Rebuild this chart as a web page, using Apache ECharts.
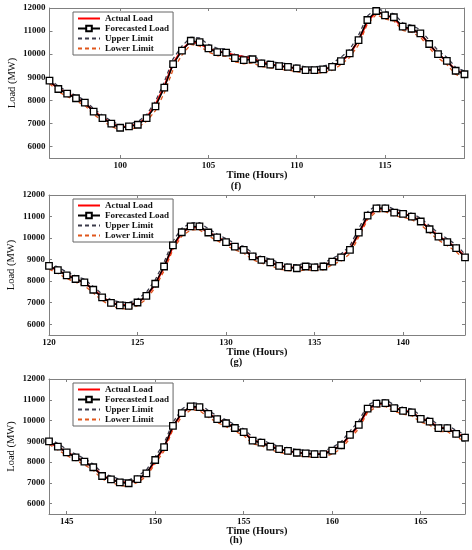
<!DOCTYPE html>
<html>
<head>
<meta charset="utf-8">
<script src="https://cdn.jsdelivr.net/npm/echarts@6/dist/echarts.min.js"></script>
<style>
html,body{margin:0;padding:0;background:#fff;}
#chart{width:472px;height:550px;}
</style>
</head>
<body>
<div id="chart"></div>
<script>
// ---- data (half-hourly load, MW) ----
const startHours = [96, 120, 144];
const stepHours = 0.5;
const captions = ['(f)', '(g)', '(h)'];
const xTickLabels = [[100,105,110,115],[120,125,130,135,140],[145,150,155,160,165]];
const yTickLabels = [6000,7000,8000,9000,10000,11000,12000];
const seriesNames = ['Actual Load','Forecasted Load','Upper Limit','Lower Limit'];

// panel (f)
const actualF = [8800,8520,8300,8100,7880,7530,7250,7000, 6830,6880,6960,7250,7800,8600,9600,10200, 10550,10450,10250,10120,10050,9950,9880,9820, 9650,9560,9490,9440,9380,9320,9300,9330, 9450,9680,10000,10600,11400,11850,11700,11550, 11150,11080,10880,10420,10000,9700,9300,9150];
const forecastF = [8850,8490,8290,8090,7900,7510,7230,6990, 6810,6870,6940,7230,7740,8550,9570,10150, 10580,10520,10250,10090,10070,9830,9740,9780, 9600,9550,9480,9450,9380,9310,9310,9340, 9450,9700,10030,10610,11480,11870,11680,11600, 11190,11100,10900,10440,10000,9710,9280,9130];
const upperF = [8950,8600,8400,8200,8010,7630,7350,7100, 6930,6990,7070,7380,7950,8800,9800,10350, 10730,10700,10420,10250,10220,9990,9900,9920, 9740,9690,9620,9590,9520,9450,9450,9480, 9600,9860,10200,10820,11650,11990,11850,11750, 11350,11250,11060,10600,10160,9870,9430,9270];
const lowerF = [8720,8370,8170,7970,7780,7390,7110,6870, 6700,6750,6820,7090,7550,8320,9330,9960, 10420,10350,10090,9930,9910,9670,9580,9620, 9460,9410,9340,9310,9240,9170,9170,9200, 9300,9540,9860,10400,11300,11720,11520,11440, 11030,10950,10740,10280,9840,9550,9120,8990];

// panel (g)
const actualG = [8680,8500,8280,8110,7920,7620,7270,7000, 6900,6880,7000,7300,7850,8650,9600,10250, 10520,10500,10280,10050,9820,9620,9440,9170, 9000,8880,8720,8650,8620,8660,8650,8700, 8900,9120,9480,10200,11000,11350,11370,11200, 11130,11020,10780,10430,10090,9830,9550,9120];
const forecastG = [8710,8510,8270,8100,7940,7600,7250,6990, 6880,6850,7010,7320,7880,8680,9660,10270, 10540,10540,10260,10030,9810,9600,9450,9150, 8990,8870,8710,8640,8600,8680,8640,8680, 8910,9100,9450,10250,11040,11380,11380,11180, 11120,11000,10770,10410,10070,9810,9530,9100];
const upperG = [8850,8650,8420,8250,8090,7750,7400,7140, 7030,7000,7160,7480,8060,8880,9860,10450, 10700,10720,10430,10190,9970,9760,9610,9310, 9140,9020,8860,8790,8750,8830,8790,8830, 9060,9260,9640,10450,11220,11530,11530,11330, 11270,11150,10920,10570,10230,9970,9690,9250];
const lowerG = [8560,8360,8120,7950,7790,7450,7100,6840, 6730,6700,6860,7160,7700,8480,9460,10090, 10380,10380,10100,9880,9660,9450,9300,9000, 8840,8720,8560,8490,8450,8530,8490,8530, 8760,8940,9270,10050,10860,11230,11230,11030, 10970,10850,10620,10250,9910,9650,9370,8950];

// panel (h)
const actualH = [8950,8720,8480,8250,8000,7760,7350,7150, 7050,7000,7150,7430,8050,8700,9700,10350, 10650,10620,10330,10080,9880,9650,9450,9050, 8930,8760,8630,8540,8460,8410,8390,8400, 8560,8800,9280,9760,10530,10800,10820,10620, 10480,10400,10100,9960,9660,9620,9380,9200];
const forecastH = [9000,8740,8470,8230,8020,7750,7330,7170, 7020,6980,7180,7460,8100,8720,9740,10360, 10680,10650,10320,10070,9870,9640,9440,9030, 8940,8740,8620,8540,8450,8420,8380,8380, 8550,8810,9310,9790,10570,10810,10840,10600, 10470,10390,10080,9950,9630,9630,9360,9180];
const upperH = [9150,8890,8620,8380,8170,7900,7480,7320, 7170,7130,7330,7610,8260,8900,9920,10540, 10850,10830,10480,10230,10030,9800,9600,9190, 9090,8890,8770,8690,8600,8570,8530,8530, 8700,8970,9490,9980,10740,10970,11000,10760, 10630,10550,10240,10110,9790,9790,9520,9330];
const lowerH = [8850,8590,8320,8080,7870,7600,7180,7020, 6870,6830,7020,7300,7920,8530,9560,10180, 10510,10480,10160,9910,9710,9480,9280,8870, 8790,8590,8470,8390,8300,8270,8230,8230, 8390,8640,9130,9600,10400,10650,10680,10440, 10310,10230,9920,9790,9470,9470,9200,9030];

const panels = [
  {actual: actualF, forecast: forecastF, upper: upperF, lower: lowerF},
  {actual: actualG, forecast: forecastG, upper: upperG, lower: lowerG},
  {actual: actualH, forecast: forecastH, upper: upperH, lower: lowerH}
];

// ---- layout ----
const gridBoxes = [
  {left: 49.5, right: 7.5, top: 8, height: 150},
  {left: 49, right: 7, top: 195, height: 140},
  {left: 49, right: 7, top: 379, height: 135}
];
const captionTops = [181, 357, 535];
const legendTops = [12, 199, 383];

const SERIF = 'Liberation Serif';
const axisColor = '#808080';
const plain = v => String(v);

const chart = echarts.init(document.getElementById('chart'), null, {renderer: 'canvas'});

const grid = [], xAxis = [], yAxis = [], series = [], legend = [], title = [];

panels.forEach((p, i) => {
  const xMin = startHours[i];
  const n = p.forecast.length;
  const xMax = xMin + (n - 1) * stepHours;
  const hours = p.forecast.map((_, k) => xMin + k * stepHours);
  const pair = arr => arr.map((v, k) => [hours[k], v]);

  grid.push(Object.assign({show: false, containLabel: false, outerBoundsMode: 'none'}, gridBoxes[i]));

  xAxis.push({
    type: 'value', gridIndex: i, min: xMin, max: xMax, position: 'bottom',
    name: 'Time (Hours)', nameLocation: 'middle', nameGap: 12, nameMoveOverlap: false,
    nameTextStyle: {fontFamily: SERIF, fontWeight: 'bold', fontSize: 10.5, color: '#111'},
    axisLine: {show: true, lineStyle: {color: axisColor, width: 1}},
    axisTick: {show: true, inside: true, length: 3, customValues: xTickLabels[i], lineStyle: {color: axisColor}},
    axisLabel: {show: true, customValues: xTickLabels[i], formatter: plain, margin: 3, fontFamily: SERIF, fontWeight: 'bold', fontSize: 9, color: '#111'},
    splitLine: {show: false}
  });
  xAxis.push({
    type: 'value', gridIndex: i, min: xMin, max: xMax, position: 'top',
    axisLine: {show: true, onZero: false, lineStyle: {color: axisColor, width: 1}},
    axisTick: {show: true, inside: true, length: 3, customValues: xTickLabels[i], lineStyle: {color: axisColor}},
    axisLabel: {show: false},
    splitLine: {show: false}
  });
  yAxis.push({
    type: 'value', gridIndex: i, min: 5500, max: 12000, position: 'left',
    name: 'Load (MW)', nameLocation: 'middle', nameGap: 32, nameMoveOverlap: false,
    nameTextStyle: {fontFamily: SERIF, fontSize: 10.5, color: '#111'},
    axisLine: {show: true, onZero: false, lineStyle: {color: axisColor, width: 1}},
    axisTick: {show: true, inside: true, length: 3, customValues: yTickLabels, lineStyle: {color: axisColor}},
    axisLabel: {show: true, customValues: yTickLabels, formatter: plain, margin: 4, fontFamily: SERIF, fontWeight: 'bold', fontSize: 9, color: '#111'},
    splitLine: {show: false}
  });
  yAxis.push({
    type: 'value', gridIndex: i, min: 5500, max: 12000, position: 'right',
    axisLine: {show: true, onZero: false, lineStyle: {color: axisColor, width: 1}},
    axisTick: {show: true, inside: true, length: 3, customValues: yTickLabels, lineStyle: {color: axisColor}},
    axisLabel: {show: false},
    splitLine: {show: false}
  });

  const xi = 2 * i, yi = 2 * i;
  series.push({
    name: 'Lower Limit', type: 'line', xAxisIndex: xi, yAxisIndex: yi, data: pair(p.lower),
    symbol: 'none', silent: true, animation: false, z: 2,
    lineStyle: {color: '#e0561b', width: 1.3, type: [4, 3]}, itemStyle: {color: '#e0561b'}
  });
  series.push({
    name: 'Upper Limit', type: 'line', xAxisIndex: xi, yAxisIndex: yi, data: pair(p.upper),
    symbol: 'none', silent: true, animation: false, z: 2,
    lineStyle: {color: '#3a3a4a', width: 1.3, type: [4, 3]}, itemStyle: {color: '#3a3a4a'}
  });
  series.push({
    name: 'Actual Load', type: 'line', xAxisIndex: xi, yAxisIndex: yi, data: pair(p.actual),
    symbol: 'none', silent: true, animation: false, z: 3,
    lineStyle: {color: '#ff0000', width: 2}, itemStyle: {color: '#ff0000'}
  });
  series.push({
    name: 'Forecasted Load', type: 'line', xAxisIndex: xi, yAxisIndex: yi, data: pair(p.forecast),
    symbol: 'rect', symbolSize: 6.5, showSymbol: true, silent: true, animation: false, z: 4,
    lineStyle: {color: '#000', width: 1.5},
    itemStyle: {color: '#ffffff', borderColor: '#000', borderWidth: 1.3}
  });

  legend.push({
    orient: 'vertical', left: 73, top: legendTops[i],
    itemWidth: 22, itemHeight: 7, itemGap: 1,
    padding: [2, 4, 2, 4],
    borderColor: '#666', borderWidth: 1, backgroundColor: '#fff',
    selectedMode: false,
    textStyle: {fontFamily: SERIF, fontWeight: 'bold', fontSize: 9, color: '#111', padding: [0, 0, 0, 0]},
    data: [
      {name: 'Actual Load', itemStyle: {opacity: 0}},
      {name: 'Forecasted Load'},
      {name: 'Upper Limit', itemStyle: {opacity: 0}},
      {name: 'Lower Limit', itemStyle: {opacity: 0}}
    ]
  });

  title.push({
    text: captions[i], left: 'center', top: captionTops[i], padding: 0,
    textStyle: {fontFamily: SERIF, fontWeight: 'bold', fontSize: 10.5, color: '#111'}
  });
});

chart.setOption({
  backgroundColor: '#fff',
  animation: false,
  title, legend, grid, xAxis, yAxis, series
});
</script>
</body>
</html>
